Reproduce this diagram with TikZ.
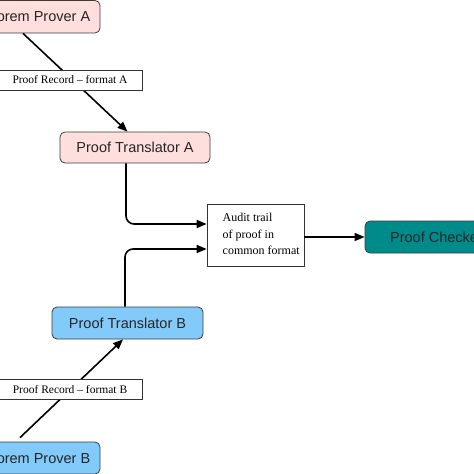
\documentclass[tikz,border=0pt]{standalone}
\usepackage{fontspec}
\setmainfont{Liberation Serif}
\newfontfamily\boxfont{Liberation Sans}
\usetikzlibrary{arrows.meta}
\definecolor{pinkfill}{RGB}{255,222,222}
\definecolor{bluefill}{RGB}{130,202,250}
\definecolor{tealfill}{RGB}{0,139,139}
\definecolor{edgegrey}{RGB}{60,60,60}
\tikzset{
  procbox/.style={draw=edgegrey, line width=0.8pt, rounded corners=5pt, inner sep=0pt,
    font=\boxfont\fontsize{14.5}{17}\selectfont, text=black!85},
  lblbox/.style={draw=black!80, fill=white, line width=0.7pt, inner sep=0pt,
    minimum width=144pt, minimum height=20pt, font=\fontsize{11.5}{13}\selectfont},
  auditbox/.style={draw=black!80, fill=white, line width=0.7pt, inner sep=0pt,
    minimum width=97pt, minimum height=62pt},
  audittext/.style={inner sep=0pt, align=left, font=\fontsize{12}{16.5}\selectfont},
  arrowline/.style={line width=1.6pt, -{Triangle[length=10pt,width=8pt]}},
}
\begin{document}
\begin{tikzpicture}[x=1pt,y=-1pt]
\useasboundingbox (0,0) rectangle (474,474);
% processes
\node[procbox, fill=pinkfill, minimum width=138pt, minimum height=32.5pt] (pa) at (31,16.75) {Theorem Prover A};
\node[procbox, fill=pinkfill, minimum width=150pt, minimum height=31pt] (ta) at (135,147.5) {Proof Translator A};
\node[procbox, fill=bluefill, minimum width=151pt, minimum height=32pt] (tb) at (127.5,323) {Proof Translator B};
\node[procbox, fill=bluefill, minimum width=138pt, minimum height=32pt] (pb) at (31,458) {Theorem Prover B};
\node[procbox, fill=tealfill, minimum width=143pt, minimum height=32pt] (pc) at (436.5,237) {Proof Checker};
\node[auditbox] (audit) at (255.5,235.5) {};
\node[audittext, anchor=west] (audittxt) at (222.5,234) {Audit trail\\of proof in\\common format};
% connectors
\draw[arrowline] ([xshift=-8pt]pa.south) -- ([xshift=-7.5pt]ta.north);
\draw[arrowline] ([xshift=-11pt,yshift=4pt]pb.north) -- ([xshift=-4.5pt]tb.south);
\draw[arrowline, rounded corners=8pt] ([xshift=-9pt]ta.south) |- ([yshift=11.5pt]audit.west);
\draw[arrowline, rounded corners=8pt] ([xshift=-2.5pt]tb.north) |- ([yshift=-13.5pt]audit.west);
\draw[arrowline] (audit.east |- pc.west) -- (pc.west);
% labels on the record connectors
\node[lblbox] (la) at (70,80) {Proof Record -- format A};
\node[lblbox] (lb) at (70,389.5) {Proof Record -- format B};
\end{tikzpicture}
\end{document}
